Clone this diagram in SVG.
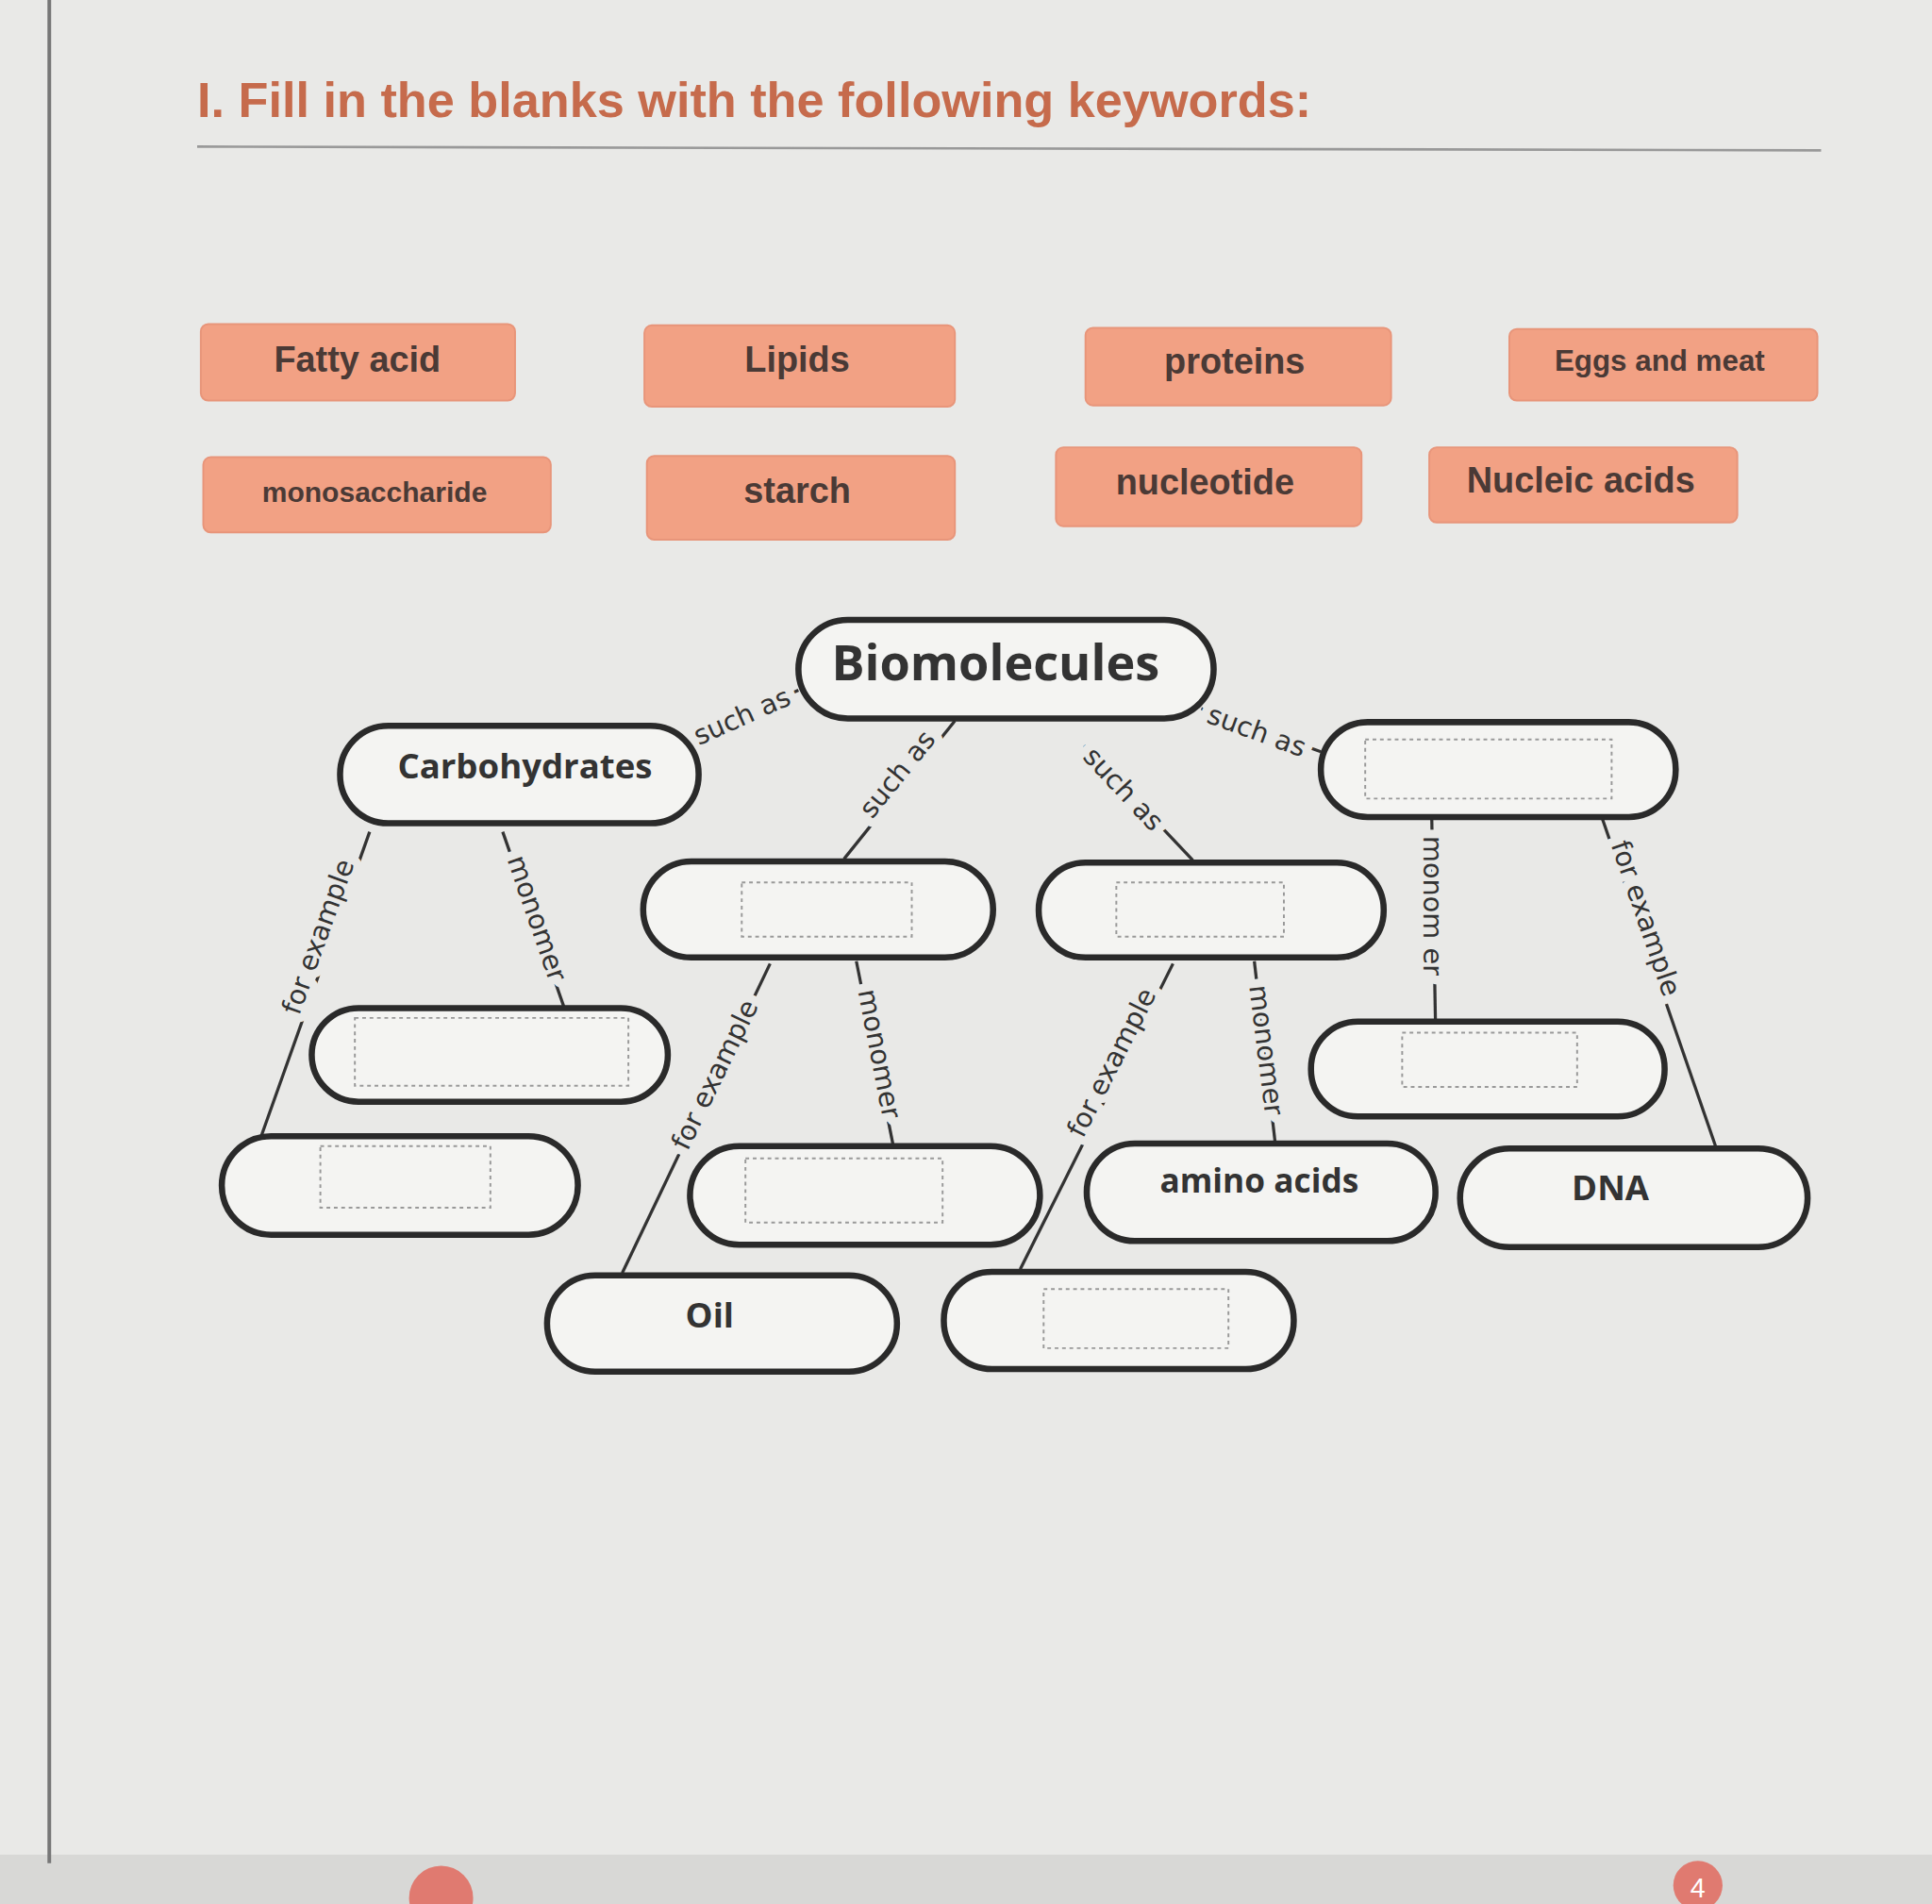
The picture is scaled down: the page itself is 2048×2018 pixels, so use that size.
<svg xmlns="http://www.w3.org/2000/svg" width="2048" height="2018" viewBox="0 0 2048 2018">
<style>
.kw{fill:#f2a184;stroke:#e8957a;stroke-width:1.5}
.kt{font-family:"Liberation Sans",Arial,sans-serif;font-weight:bold;fill:#4a3a36;text-anchor:middle}
.nd{fill:#f4f4f2;stroke:#2a2a2a;stroke-width:5}
.in{fill:none;stroke:#999;stroke-width:1.5;stroke-dasharray:3 3}
.nt{font-family:"Open Sans","DejaVu Sans",sans-serif;font-weight:bold;fill:#333;text-anchor:middle}
.ln{stroke:#333;stroke-width:2.5;fill:none}
.lt{font-family:"DejaVu Sans",sans-serif;font-size:22px;fill:#333;text-anchor:middle;dominant-baseline:central;stroke:#e9e9e7;stroke-width:14;stroke-linejoin:round;paint-order:stroke}
</style>
<rect width="2048" height="2018" fill="#e9e9e7"/>
<g transform="scale(1.30612)">
<rect x="0" y="1505" width="1568" height="45" fill="#d8d8d6"/>
<line x1="40" y1="0" x2="40" y2="1512" stroke="#777" stroke-width="3"/>
<text x="160" y="95" font-family="Liberation Sans,Arial,sans-serif" font-weight="bold" font-size="40" fill="#c66b4c">I. Fill in the blanks with the following keywords:</text>
<line x1="160" y1="119" x2="1478" y2="122" stroke="#999" stroke-width="2"/>
<g id="keywords">
<g id="k1"><rect class="kw" x="163" y="263" width="255" height="62" rx="6"/><text class="kt" x="290" y="302" font-size="29">Fatty acid</text></g>
<g id="k2"><rect class="kw" x="523" y="264" width="252" height="66" rx="6"/><text class="kt" x="647" y="302" font-size="29">Lipids</text></g>
<g id="k3"><rect class="kw" x="881" y="266" width="248" height="63" rx="6"/><text class="kt" x="1002" y="303" font-size="29">proteins</text></g>
<g id="k4"><rect class="kw" x="1225" y="267" width="250" height="58" rx="6"/><text class="kt" x="1347" y="301" font-size="24">Eggs and meat</text></g>
<g id="k5"><rect class="kw" x="165" y="371" width="282" height="61" rx="6"/><text class="kt" x="304" y="407" font-size="23">monosaccharide</text></g>
<g id="k6"><rect class="kw" x="525" y="370" width="250" height="68" rx="6"/><text class="kt" x="647" y="408" font-size="29">starch</text></g>
<g id="k7"><rect class="kw" x="857" y="363" width="248" height="64" rx="6"/><text class="kt" x="978" y="401" font-size="29">nucleotide</text></g>
<g id="k8"><rect class="kw" x="1160" y="363" width="250" height="61" rx="6"/><text class="kt" x="1283" y="400" font-size="29">Nucleic acids</text></g>
</g>
<g id="connectors">
<line class="ln" x1="648" y1="560" x2="560" y2="600"/>
<line class="ln" x1="775" y1="585" x2="685" y2="697"/>
<line class="ln" x1="880" y1="605" x2="968" y2="698"/>
<line class="ln" x1="975" y1="575" x2="1072" y2="610"/>
<line class="ln" x1="300" y1="675" x2="212" y2="922"/>
<line class="ln" x1="408" y1="675" x2="458" y2="818"/>
<line class="ln" x1="625" y1="782" x2="505" y2="1033"/>
<line class="ln" x1="695" y1="780" x2="725" y2="930"/>
<line class="ln" x1="952" y1="782" x2="828" y2="1030"/>
<line class="ln" x1="1018" y1="780" x2="1035" y2="928"/>
<line class="ln" x1="1162" y1="663" x2="1165" y2="829"/>
<line class="ln" x1="1300" y1="663" x2="1393" y2="932"/>
<text class="lt" transform="translate(602,581) rotate(-24)">such as</text>
<text class="lt" transform="translate(728,628) rotate(-51)">such as</text>
<text class="lt" transform="translate(912,640) rotate(47)">such as</text>
<text class="lt" transform="translate(1020,593) rotate(20)">such as</text>
<text class="lt" transform="translate(258,760) rotate(-70)">for example</text>
<text class="lt" transform="translate(436,745) rotate(71)">monomer</text>
<text class="lt" transform="translate(580,872) rotate(-64)">for example</text>
<text class="lt" transform="translate(714,855) rotate(79)">monomer</text>
<text class="lt" transform="translate(902,862) rotate(-63)">for example</text>
<text class="lt" transform="translate(1028,852) rotate(83)">monomer</text>
<text class="lt" transform="translate(1163,735) rotate(90)">monom er</text>
<text class="lt" transform="translate(1336,745) rotate(71)">for example</text>
</g>
<g id="n-bio"><rect class="nd" x="648" y="503" width="337" height="80" rx="40"/><text class="nt" x="808" y="552" font-size="40">Biomolecules</text></g>
<g id="n-carb"><rect class="nd" x="276" y="589" width="291" height="79" rx="39"/><text class="nt" x="426" y="632" font-size="28">Carbohydrates</text></g>
<g id="n-lip"><rect class="nd" x="522" y="699" width="284" height="78" rx="39"/><rect class="in" x="602" y="716" width="138" height="44"/></g>
<g id="n-prot"><rect class="nd" x="843" y="700" width="280" height="77" rx="38"/><rect class="in" x="906" y="716" width="136" height="44"/></g>
<g id="n-nuc"><rect class="nd" x="1072" y="586" width="288" height="77" rx="38"/><rect class="in" x="1108" y="600" width="200" height="48"/></g>
<g id="n-mono"><rect class="nd" x="253" y="818" width="289" height="76" rx="38"/><rect class="in" x="288" y="826" width="222" height="55"/></g>
<g id="n-starch"><rect class="nd" x="180" y="922" width="289" height="80" rx="40"/><rect class="in" x="260" y="930" width="138" height="50"/></g>
<g id="n-fatty"><rect class="nd" x="560" y="930" width="284" height="80" rx="40"/><rect class="in" x="605" y="940" width="160" height="52"/></g>
<g id="n-amino"><rect class="nd" x="882" y="928" width="283" height="79" rx="39"/><text class="nt" x="1022" y="968" font-size="27">amino acids</text></g>
<g id="n-nucleo"><rect class="nd" x="1064" y="829" width="287" height="77" rx="38"/><rect class="in" x="1138" y="838" width="142" height="44"/></g>
<g id="n-dna"><rect class="nd" x="1185" y="932" width="282" height="80" rx="40"/><text class="nt" x="1307" y="974" font-size="28">DNA</text></g>
<g id="n-oil"><rect class="nd" x="444" y="1035" width="284" height="78" rx="39"/><text class="nt" x="576" y="1077" font-size="28">Oil</text></g>
<g id="n-eggs"><rect class="nd" x="766" y="1032" width="284" height="79" rx="39"/><rect class="in" x="847" y="1046" width="150" height="48"/></g>
<circle cx="358" cy="1540" r="26" fill="#e07a70"/>
<circle cx="1378" cy="1530" r="20" fill="#e07a70"/>
<text x="1378" y="1540" font-family="Liberation Sans,sans-serif" font-size="22" fill="#fff" text-anchor="middle">4</text>
</g>
</svg>
